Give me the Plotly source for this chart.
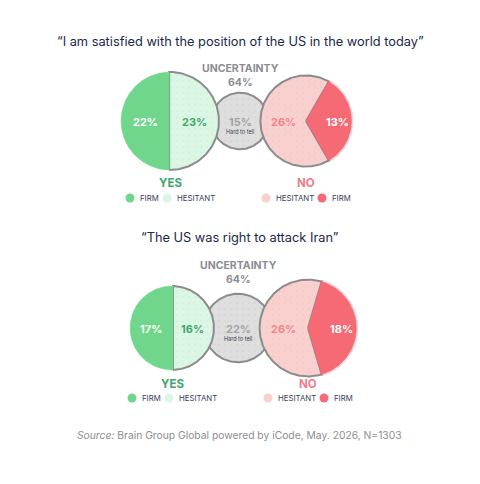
import math
import plotly.graph_objects as go

# ---------------- data ----------------
QUESTIONS = ["\u201cI am satisfied with the position of the US in the world today\u201d",
             "\u201cThe US was right to attack Iran\u201d"]
YES_FIRM = [22, 17]
YES_HES = [23, 16]
HARD = [15, 22]
NO_HES = [26, 26]
NO_FIRM = [13, 18]
UNCERTAINTY = [64, 64]
SOURCE = "<i>Source:</i> Brain Group Global powered by iCode, May. 2026, N=1303"

# ---------------- layout / style ----------------
W, H = 480, 484
K = 7.3  # radius = K * sqrt(percent)
PANELS = [
    dict(cy=121, cx_yes=170, cx_hard=240, cx_no=306, title_y=41, unc_y=68, lab_y=183, leg_y=198),
    dict(cy=328, cx_yes=172, cx_hard=238, cx_no=308, title_y=237, unc_y=265, lab_y=384, leg_y=398),
]
GREEN = "#6fd68b"
MINT = "#dcf6e6"
GRAY_FILL = "#dedede"
PINK = "#f8d0ce"
RED = "#f56a74"
OUTLINE = "#8c8c8c"
GREEN_TXT = "#3ea86c"
PINK_TXT = "#f0868d"
NO_TXT = "#f27c86"
GRAY_TXT = "#8c8c94"
NAVY = "#20284a"
LEG_TXT = "#3b4060"
FONT = "Inter"

fig = go.Figure()


def pts_arc(cx, cy, r, a0, a1, n=120):
    xs, ys = [], []
    for i in range(n + 1):
        a = a0 + (a1 - a0) * i / n
        xs.append(cx + r * math.cos(a))
        ys.append(cy - r * math.sin(a))
    return xs, ys


def poly(xs, ys, fill, line_color=None, lw=0, pattern=None):
    fig.add_trace(go.Scatter(
        x=xs + [xs[0]], y=ys + [ys[0]], mode="lines", fill="toself",
        fillcolor=fill,
        line=dict(color=line_color if line_color else fill, width=lw if lw else 0.5),
        fillpattern=pattern if pattern else None,
        hoverinfo="skip", showlegend=False))


def chord_offset(frac_left):
    lo, hi = -1.0, 1.0
    for _ in range(60):
        d = (lo + hi) / 2
        right = math.acos(d) - d * math.sqrt(max(0.0, 1 - d * d))
        left = (math.pi - right) / math.pi
        if left < frac_left:
            lo = d
        else:
            hi = d
    return (lo + hi) / 2


def pat(bg, fg):
    return dict(shape=".", bgcolor=bg, fgcolor=fg, size=6, solidity=0.1)


def text(x, y, s, size, color, bold=False, xanchor="center"):
    fig.add_annotation(x=x, y=y, text=("<b>%s</b>" % s) if bold else s, showarrow=False,
                       xanchor=xanchor, yanchor="middle",
                       font=dict(family=FONT, size=size, color=color))


def dot(x, y, color):
    fig.add_trace(go.Scatter(x=[x], y=[y], mode="markers",
                             marker=dict(size=9, color=color, line=dict(width=0)),
                             hoverinfo="skip", showlegend=False))


for i, p in enumerate(PANELS):
    cy = p["cy"]
    yes_total = YES_FIRM[i] + YES_HES[i]
    no_total = NO_FIRM[i] + NO_HES[i]
    r_yes = K * math.sqrt(yes_total)
    r_no = K * math.sqrt(no_total)
    r_hard = K * math.sqrt(HARD[i])

    # hard to tell (behind)
    xs, ys = pts_arc(p["cx_hard"], cy, r_hard, 0, 2 * math.pi, 160)
    poly(xs, ys, GRAY_FILL, OUTLINE, 2, pat(GRAY_FILL, "#cdcdcd"))

    # YES circle: firm (left) + hesitant (right) split by a vertical chord
    d = chord_offset(YES_FIRM[i] / yes_total)
    t0 = math.acos(d)
    cx = p["cx_yes"]
    xs, ys = pts_arc(cx, cy, r_yes, -t0, t0, 120)
    poly(xs, ys, MINT, OUTLINE, 2, pat(MINT, "#c4ebd3"))
    xs, ys = pts_arc(cx, cy, r_yes, t0, 2 * math.pi - t0, 160)
    poly(xs, ys, GREEN)

    # NO circle: hesitant + firm sector facing right
    cxn = p["cx_no"]
    alpha = 2 * math.pi * NO_FIRM[i] / no_total
    xs, ys = pts_arc(cxn, cy, r_no + 1.5, -alpha / 2, alpha / 2, 100)
    poly([cxn] + xs, [cy] + ys, "rgba(245,106,116,0.25)")
    xs, ys = pts_arc(cxn, cy, r_no, alpha / 2, 2 * math.pi - alpha / 2, 160)
    poly([cxn] + xs, [cy] + ys, PINK, OUTLINE, 2, pat(PINK, "#f0bfbc"))
    xs, ys = pts_arc(cxn, cy, r_no, -alpha / 2, alpha / 2, 100)
    poly([cxn] + xs, [cy] + ys, RED)

    # texts
    text(W / 2, p["title_y"], QUESTIONS[i], 12.8, NAVY)
    text(p["cx_hard"], p["unc_y"], "UNCERTAINTY", 10.5, GRAY_TXT, True)
    text(p["cx_hard"], p["unc_y"] + 14, "%d%%" % UNCERTAINTY[i], 10.5, GRAY_TXT, True)

    text(cx - 0.5 * r_yes, cy + 1, "%d%%" % YES_FIRM[i], 11, "white", True)
    text(cx + 0.5 * r_yes, cy + 1, "%d%%" % YES_HES[i], 11, GREEN_TXT, True)
    text(p["cx_hard"], cy + 1, "%d%%" % HARD[i], 11, "#a4a4a8", True)
    text(p["cx_hard"], cy + 11, "Hard to tell", 5.5, "#3b4060")
    text(cxn - 0.5 * r_no, cy + 1, "%d%%" % NO_HES[i], 11, PINK_TXT, True)
    text(cxn + 0.7 * r_no, cy + 1, "%d%%" % NO_FIRM[i], 11, "white", True)

    text(cx, p["lab_y"], "YES", 11.5, GREEN_TXT, True)
    text(cxn, p["lab_y"], "NO", 11.5, NO_TXT, True)

    ly = p["leg_y"]
    dot(cx - 40, ly, GREEN)
    text(cx - 32, ly, "FIRM", 7.8, LEG_TXT, xanchor="left")
    dot(cx - 3, ly, MINT)
    text(cx + 5, ly, "HESITANT", 7.8, LEG_TXT, xanchor="left")
    dot(cxn - 40, ly, PINK)
    text(cxn - 32, ly, "HESITANT", 7.8, LEG_TXT, xanchor="left")
    dot(cxn + 16, ly, RED)
    text(cxn + 24, ly, "FIRM", 7.8, LEG_TXT, xanchor="left")

text(W / 2 - 1, 435, SOURCE, 10.3, "#8e8e92")

fig.update_layout(
    width=W, height=H, margin=dict(l=0, r=0, t=0, b=0),
    paper_bgcolor="white", plot_bgcolor="white",
    xaxis=dict(range=[0, W], visible=False, fixedrange=True),
    yaxis=dict(range=[H, 0], visible=False, fixedrange=True),
    showlegend=False,
)
fig.write_html("out.html", config={"displayModeBar": False})
